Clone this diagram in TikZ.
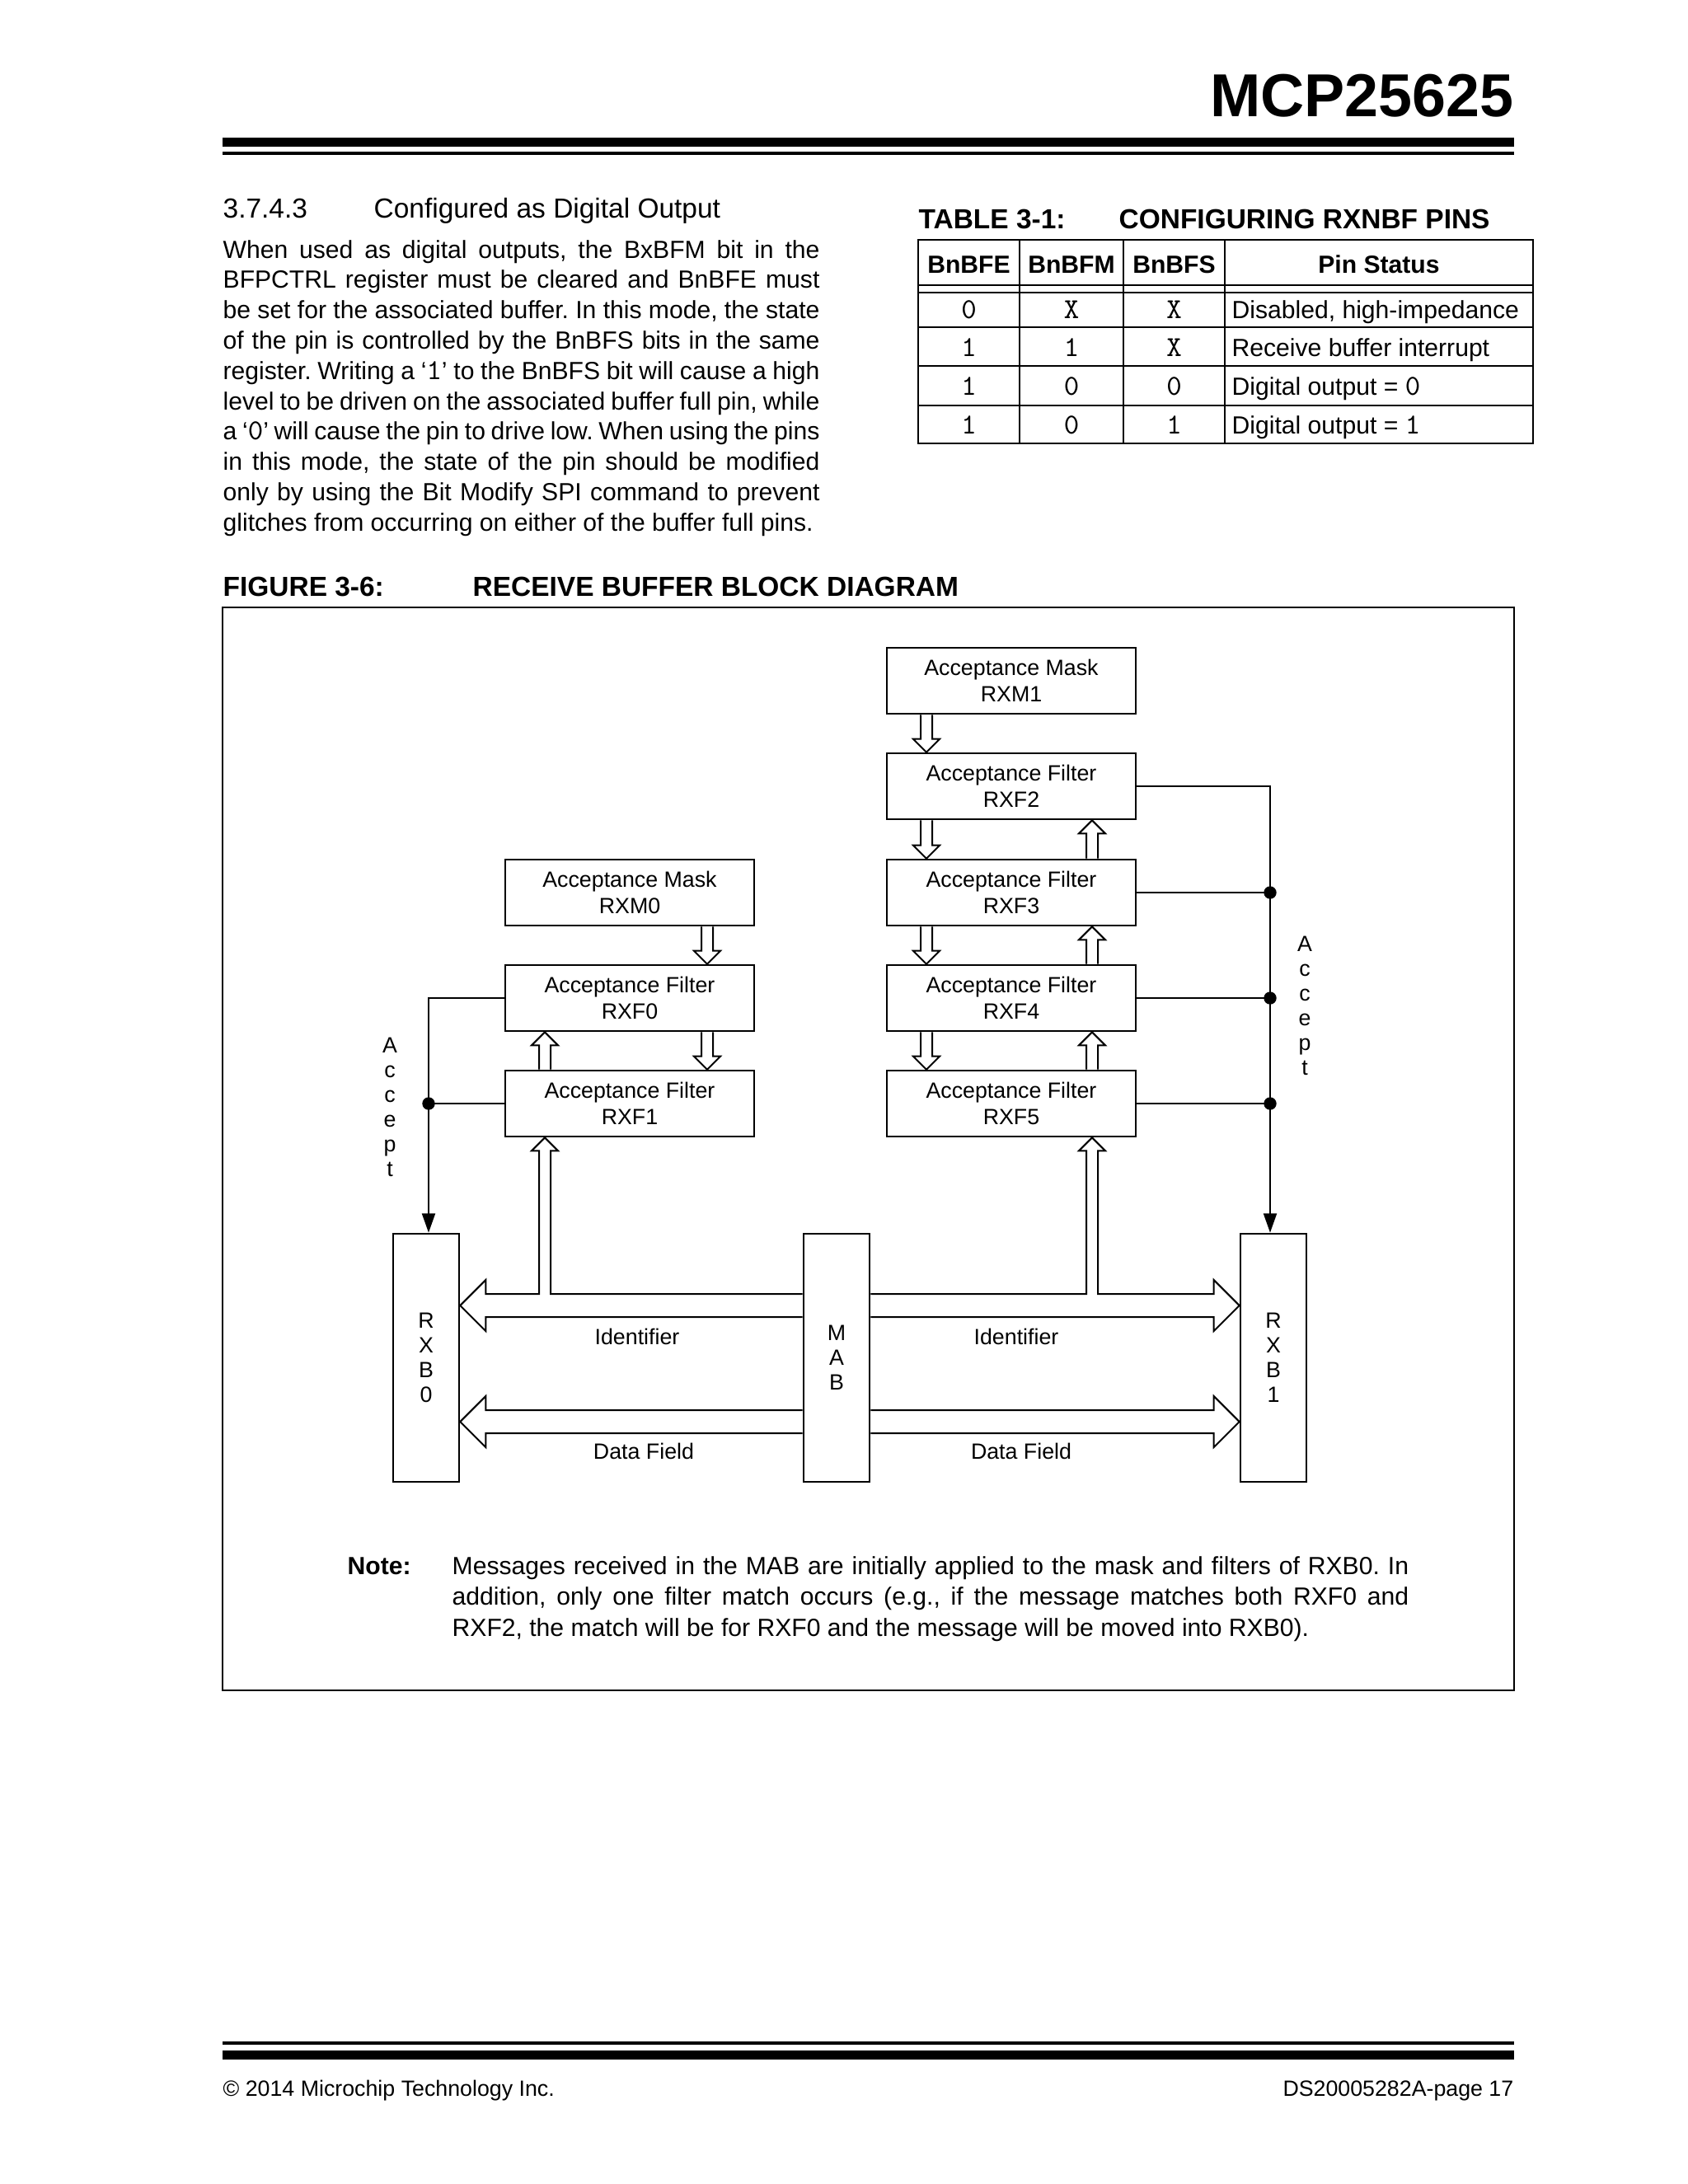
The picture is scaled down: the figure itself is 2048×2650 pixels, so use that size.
\documentclass[tikz,border=0pt]{standalone}
\usepackage{fontspec}
\setmainfont{Liberation Sans}
\usetikzlibrary{calc,arrows.meta}
\frenchspacing
\newcommand\fsz[2]{\fontsize{#1}{#2}\selectfont}
\newcommand\mono[1]{{\ttfamily\fontsize{10.5}{11}\selectfont #1}}
\newcommand\hdown[3]{%
  \path (#2.south -| #1) coordinate (tA) (#3.north -| #1) coordinate (tB);
  \draw[hol] ($(tA)+(-7,0)$) -- ($(tB)+(-7,-16)$) -- ++(-9,0) -- (tB) -- ++(16,-16) -- ++(-9,0) -- ($(tA)+(7,0)$);}
\newcommand\hup[3]{%
  \path (#2.north -| #1) coordinate (tB) (#3.south -| #1) coordinate (tA);
  \draw[hol] ($(tB)+(-7,0)$) -- ($(tA)+(-7,16)$) -- ++(-9,0) -- (tA) -- ++(16,16) -- ++(-9,0) -- ($(tB)+(7,0)$);}
\newcommand\jline[3]{\node[txt,anchor=base west] (#1) at (270,#2) {\makebox[216.3pt][s]{#3}};}
\begin{document}
\begin{tikzpicture}[x=0.29883pt,y=-0.29883pt,
  box/.style={draw,line width=0.8pt,minimum width=90.25pt,minimum height=23.9pt,inner sep=0pt,align=center,font=\fsz{8}{9.6}},
  vbox/.style={draw,line width=0.8pt,minimum width=23.9pt,minimum height=89.95pt,inner sep=0pt,align=center,font=\fsz{8}{8.96}},
  hol/.style={line width=0.6pt,line join=miter},
  conn/.style={line width=0.6pt},
  acc/.style={conn,-{Triangle[length=7pt,width=4.8pt]}},
  dot/.style={circle,fill,inner sep=0pt,minimum size=4.6pt},
  txt/.style={inner sep=0pt,font=\fsz{9}{11}},
  lab/.style={inner sep=0pt,font=\fsz{8}{9.6}},
  bold10/.style={inner sep=0pt,anchor=base west,font=\bfseries\fsz{10}{12}},
  rule/.style={line width=0.6pt}
]
\fill[white] (0,0) rectangle (2048,2650);
\useasboundingbox (0,0) rectangle (2048,2650);

% ---------- page header ----------
\node[anchor=base east,inner sep=0pt,font=\bfseries\fsz{22}{26}] (hdr) at (1837,141) {MCP25625};
\fill (270,167) rectangle (1837,178);
\fill (270,184) rectangle (1837,188);

% ---------- section text ----------
\node[anchor=base west,inner sep=0pt,font=\fsz{10}{12}] (secnum) at (270,264) {3.7.4.3};
\node[anchor=base west,inner sep=0pt,font=\fsz{10}{12}] (sectitle) at (453,264) {Configured as Digital Output};
\jline{b1}{313}{When used as digital outputs, the BxBFM bit in the}
\jline{b2}{349.8}{BFPCTRL register must be cleared and BnBFE must}
\jline{b3}{386.6}{be set for the associated buffer. In this mode, the state}
\jline{b4}{423.4}{of the pin is controlled by the BnBFS bits in the same}
\jline{b5}{460.2}{register. Writing a ‘\mono{1}’ to the BnBFS bit will cause a high}
\jline{b6}{497}{level to be driven on the associated buffer full pin, while}
\jline{b7}{533.8}{a ‘\mono{0}’ will cause the pin to drive low. When using the pins}
\jline{b8}{570.6}{in this mode, the state of the pin should be modified}
\jline{b9}{607.4}{only by using the Bit Modify SPI command to prevent}
\node[txt,anchor=base west] (b10) at (270,644.2) {glitches from occurring on either of the buffer full pins.};

% ---------- table ----------
\node[bold10] (tabnum) at (1114,277) {TABLE 3-1:};
\node[bold10] (tabtitle) at (1357,277) {CONFIGURING RXNBF PINS};
\draw[line width=0.8pt] (1114,291) rectangle (1860,538);
\draw[rule] (1237,291) -- (1237,538) (1363,291) -- (1363,538) (1486,291) -- (1486,538);
\draw[rule] (1114,346) -- (1860,346) (1114,355) -- (1860,355)
  (1114,397) -- (1860,397) (1114,444) -- (1860,444) (1114,492) -- (1860,492);
\begin{scope}[every node/.style={inner sep=0pt,anchor=base,font=\bfseries\fsz{9}{11}}]
\node (th1) at (1175.5,331) {BnBFE};
\node (th2) at (1300,331) {BnBFM};
\node (th3) at (1424.5,331) {BnBFS};
\node (th4) at (1673,331) {Pin Status};
\end{scope}
\begin{scope}[every node/.style={inner sep=0pt,anchor=base,font=\ttfamily\fsz{10.5}{11}}]
\node (c11) at (1175.5,386) {0}; \node (c12) at (1300,386) {X}; \node (c13) at (1424.5,386) {X};
\node (c21) at (1175.5,432) {1}; \node (c22) at (1300,432) {1}; \node (c23) at (1424.5,432) {X};
\node (c31) at (1175.5,479) {1}; \node (c32) at (1300,479) {0}; \node (c33) at (1424.5,479) {0};
\node (c41) at (1175.5,526) {1}; \node (c42) at (1300,526) {0}; \node (c43) at (1424.5,526) {1};
\end{scope}
\begin{scope}[every node/.style={inner sep=0pt,anchor=base west,font=\fsz{9}{11}}]
\node (s1) at (1494,386) {Disabled, high-impedance};
\node (s2) at (1494,432) {Receive buffer interrupt};
\node (s3) at (1494,479) {Digital output = \mono{0}};
\node (s4) at (1494,526) {Digital output = \mono{1}};
\end{scope}

% ---------- figure ----------
\node[bold10] (fignum) at (270,723) {FIGURE 3-6:};
\node[bold10] (figtitle) at (573,723) {RECEIVE BUFFER BLOCK DIAGRAM};
\draw[line width=0.75pt] (270,737) rectangle (1837,2051);

\coordinate (accL) at (520,0);
\coordinate (accR) at (1541,0);
\coordinate (dnL) at (858,0);
\coordinate (upL) at (661,0);
\coordinate (dnR) at (1124,0);
\coordinate (upR) at (1325,0);
\coordinate (busI) at (0,1584);
\coordinate (busD) at (0,1725);

\node[box] (rxm1) at (1227,826) {Acceptance Mask\\RXM1};
\node[box] (rxf2) at (1227,954) {Acceptance Filter\\RXF2};
\node[box] (rxf3) at (1227,1083) {Acceptance Filter\\RXF3};
\node[box] (rxf4) at (1227,1211) {Acceptance Filter\\RXF4};
\node[box] (rxf5) at (1227,1339) {Acceptance Filter\\RXF5};
\node[box] (rxm0) at (764,1083) {Acceptance Mask\\RXM0};
\node[box] (rxf0) at (764,1211) {Acceptance Filter\\RXF0};
\node[box] (rxf1) at (764,1339) {Acceptance Filter\\RXF1};
\node[vbox] (rxb0) at (517,1647.5) {R\\X\\B\\0};
\node[vbox] (mab) at (1015,1647.5) {M\\A\\B};
\node[vbox] (rxb1) at (1545,1647.5) {R\\X\\B\\1};

% hollow arrows between filters
\hdown{dnL}{rxm0}{rxf0}
\hdown{dnL}{rxf0}{rxf1}
\hup{upL}{rxf1}{rxf0}
\hdown{dnR}{rxm1}{rxf2}
\hdown{dnR}{rxf2}{rxf3}
\hdown{dnR}{rxf3}{rxf4}
\hdown{dnR}{rxf4}{rxf5}
\hup{upR}{rxf3}{rxf2}
\hup{upR}{rxf4}{rxf3}
\hup{upR}{rxf5}{rxf4}

% accept lines
\draw[acc] (rxf0.west) -| (accL |- rxb0.north);
\draw[conn] (rxf1.west) -- (rxf1.west -| accL) node[dot] (dL1) {};
\draw[acc] (rxf2.east) -| (accR |- rxb1.north);
\draw[conn] (rxf3.east) -- (rxf3.east -| accR) node[dot] (dR3) {};
\draw[conn] (rxf4.east) -- (rxf4.east -| accR) node[dot] (dR4) {};
\draw[conn] (rxf5.east) -- (rxf5.east -| accR) node[dot] (dR5) {};
\node[inner sep=0pt,align=center,font=\fsz{8}{8.96}] (accLt) at (473,1343) {A\\c\\c\\e\\p\\t};
\node[inner sep=0pt,align=center,font=\fsz{8}{8.96}] (accRt) at (1583,1220) {A\\c\\c\\e\\p\\t};

% identifier buses
\path (mab.west |- busI) coordinate (mI) (rxb0.east |- busI) coordinate (rI)
      (rxf1.south -| upL) coordinate (fI) (upL |- busI) coordinate (bI);
\draw[hol] ($(mI)+(0,-14)$) -- ($(bI)+(7,-14)$) -- ($(fI)+(7,16)$) -- ++(9,0) -- (fI) -- ++(-16,16) -- ++(9,0)
  -- ($(bI)+(-7,-14)$) -- ($(rI)+(31,-14)$) -- ++(0,-17) -- (rI) -- ++(31,31) -- ++(0,-17) -- ($(mI)+(0,14)$);
\path (mab.east |- busI) coordinate (mI2) (rxb1.west |- busI) coordinate (rI2)
      (rxf5.south -| upR) coordinate (fI2) (upR |- busI) coordinate (bI2);
\draw[hol] ($(mI2)+(0,-14)$) -- ($(bI2)+(-7,-14)$) -- ($(fI2)+(-7,16)$) -- ++(-9,0) -- (fI2) -- ++(16,16) -- ++(-9,0)
  -- ($(bI2)+(7,-14)$) -- ($(rI2)+(-31,-14)$) -- ++(0,-17) -- (rI2) -- ++(-31,31) -- ++(0,-17) -- ($(mI2)+(0,14)$);
% data buses
\path (mab.west |- busD) coordinate (mD) (rxb0.east |- busD) coordinate (rD)
      (mab.east |- busD) coordinate (mD2) (rxb1.west |- busD) coordinate (rD2);
\draw[hol] ($(mD)+(0,-14)$) -- ($(rD)+(31,-14)$) -- ++(0,-17) -- (rD) -- ++(31,31) -- ++(0,-17) -- ($(mD)+(0,14)$);
\draw[hol] ($(mD2)+(0,-14)$) -- ($(rD2)+(-31,-14)$) -- ++(0,-17) -- (rD2) -- ++(-31,31) -- ++(0,-17) -- ($(mD2)+(0,14)$);

\node[lab] (idL) at (773,1622) {Identifier};
\node[lab] (idR) at (1233,1622) {Identifier};
\node[lab] (dfL) at (781,1761) {Data Field};
\node[lab] (dfR) at (1239,1761) {Data Field};

% note
\node[anchor=base west,inner sep=0pt,font=\bfseries\fsz{9}{11}] (notelbl) at (421,1910) {Note:};
\node[txt,anchor=base west] (n1) at (548,1910) {\makebox[346.8pt][s]{Messages received in the MAB are initially applied to the mask and filters of RXB0. In}};
\node[txt,anchor=base west] (n2) at (548,1947.5) {\makebox[346.8pt][s]{addition, only one filter match occurs (e.g., if the message matches both RXF0 and}};
\node[txt,anchor=base west] (n3) at (548,1985) {RXF2, the match will be for RXF0 and the message will be moved into RXB0).};

% ---------- footer ----------
\fill (270,2477) rectangle (1837,2481);
\fill (270,2488) rectangle (1837,2499);
\node[anchor=base west,inner sep=0pt,font=\fsz{8}{10}] (ftl) at (270,2543) {© 2014 Microchip Technology Inc.};
\node[anchor=base east,inner sep=0pt,font=\fsz{8}{10}] (ftr) at (1837,2543) {DS20005282A-page 17};
\end{tikzpicture}
\end{document}
